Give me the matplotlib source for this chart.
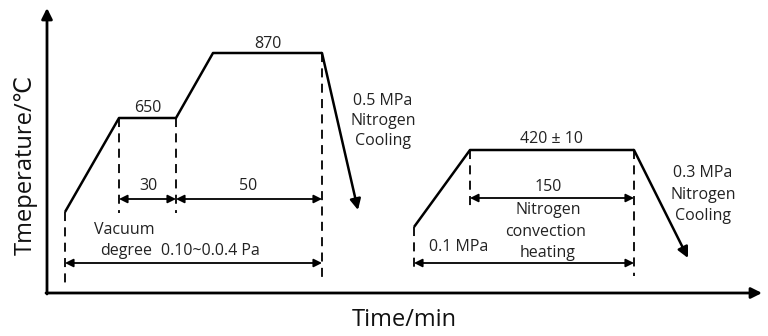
import matplotlib
matplotlib.use("Agg")
import matplotlib.pyplot as plt

plt.rcParams['font.family'] = ['Open Sans', 'DejaVu Sans']

# Schematic coordinates (diagram units, y upward)
stage1_x = [65, 119, 176, 213, 322]
stage1_y = [124, 218, 218, 283, 283]
cool1_end = (358, 126)
stage2_x = [414, 470, 634]
stage2_y = [109, 186, 186]
cool2_end = (688, 78)

origin = (47, 43)
x_axis_end = 762
y_axis_end = 328

dash_x = [65, 119, 176, 322, 414, 470, 634]
dash_y0 = [124, 218, 218, 283, 109, 186, 186]
dash_y1 = [53, 123, 123, 53, 66, 126, 60]

dims = [  # (x0, x1, y)
    (119, 176, 137), (176, 322, 137), (65, 322, 73),
    (470, 634, 138), (414, 634, 73),
]

labels = [
    ("650", 148, 228, 'center'), ("870", 268, 292, 'center'),
    ("30", 148, 150, 'center'), ("50", 248, 150, 'center'),
    ("Vacuum", 124, 106, 'center'), ("degree", 126, 85, 'center'),
    ("0.10~0.0.4 Pa", 161, 85, 'left'),
    ("0.5 MPa", 383, 235, 'center'), ("Nitrogen", 383, 215, 'center'),
    ("Cooling", 383, 195, 'center'),
    ("420 ± 10", 551, 197, 'center'), ("150", 548, 149, 'center'),
    ("Nitrogen", 548, 126, 'center'), ("convection", 546, 104, 'center'),
    ("heating", 548, 83, 'center'), ("0.1 MPa", 429, 89, 'left'),
    ("0.3 MPa", 703, 163, 'center'), ("Nitrogen", 703, 141, 'center'),
    ("Cooling", 703, 120, 'center'),
]

fig = plt.figure(figsize=(7.68, 3.36), dpi=100)
ax = fig.add_axes([0, 0, 1, 1])
ax.set_xlim(0, 768)
ax.set_ylim(0, 336)
ax.axis('off')

# axes arrows
ax.annotate('', xy=(x_axis_end, origin[1]), xytext=(origin[0] - 1, origin[1]),
            arrowprops=dict(arrowstyle='-|>', lw=2, color='black',
                            mutation_scale=16, shrinkA=0, shrinkB=0))
ax.annotate('', xy=(origin[0], y_axis_end), xytext=(origin[0], origin[1] - 1),
            arrowprops=dict(arrowstyle='-|>', lw=2, color='black',
                            mutation_scale=16, shrinkA=0, shrinkB=0))

# profiles
ax.plot(stage1_x, stage1_y, color='black', lw=1.8, solid_capstyle='butt')
ax.plot(stage2_x, stage2_y, color='black', lw=1.8, solid_capstyle='butt')
ax.annotate('', xy=cool1_end, xytext=(stage1_x[-1], stage1_y[-1]),
            arrowprops=dict(arrowstyle='-|>', lw=1.8, color='black',
                            mutation_scale=16, shrinkA=0, shrinkB=0))
ax.annotate('', xy=cool2_end, xytext=(stage2_x[-1], stage2_y[-1]),
            arrowprops=dict(arrowstyle='-|>', lw=1.8, color='black',
                            mutation_scale=16, shrinkA=0, shrinkB=0))

# dashed guide lines
for x, y0, y1 in zip(dash_x, dash_y0, dash_y1):
    ax.plot([x, x], [y0, y1], color='black', lw=1.3, ls=(0, (5, 3.5)))

# dimension arrows
for x0, x1, y in dims:
    ax.annotate('', xy=(x1, y), xytext=(x0, y),
                arrowprops=dict(arrowstyle='<|-|>', lw=1.3, color='black',
                                mutation_scale=12, shrinkA=0, shrinkB=0))

for txt, x, y, ha in labels:
    ax.text(x, y, txt, ha=ha, va='center', fontsize=11.5, color='#222222')

ax.text(26, 171, "Tmeperature/℃", rotation=90, ha='center', va='center',
        fontsize=17, color='#111111')
ax.text(404, 16, "Time/min", ha='center', va='center', fontsize=17,
        color='#111111')

fig.savefig('out.png', dpi=100)
